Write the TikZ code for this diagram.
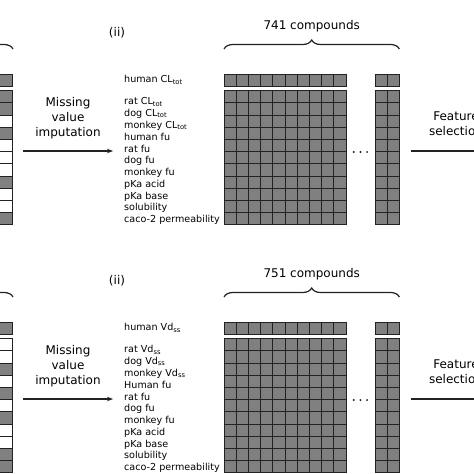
\documentclass[tikz,border=0pt]{standalone}
\usepackage{fontspec}
\setmainfont{DejaVu Sans}
\usetikzlibrary{arrows.meta,decorations.pathreplacing}

\definecolor{cellg}{HTML}{808080}
\definecolor{cellw}{HTML}{FFFFFF}
\definecolor{gridline}{HTML}{222222}

\tikzset{
  cell/.style={draw=gridline,line width=1pt},
  feat/.style={anchor=west,inner sep=0pt,font=\fontsize{9.6}{11}\selectfont},
  steplabel/.style={align=center,inner sep=0pt,font=\fontsize{12}{15}\selectfont},
  flow/.style={line width=1.4pt,draw=gridline,-{Stealth[length=6pt,width=4.5pt]}},
  curly/.style={decorate,decoration={brace,amplitude=9pt},line width=1.2pt,draw=gridline},
}

\begin{document}
\begin{tikzpicture}[x=1pt,y=-1pt]
\useasboundingbox (0,0) rectangle (474,474);
\clip (0,0) rectangle (474,474);

%% upper panel: CLtot
\begin{scope}
% previous matrix, cut off at the left
\draw[curly] (-162,49) -- (13,49);
\draw[cell,fill=cellg] (-1,74.5) rectangle (12.7,86.7);
\foreach \c [count=\i from 0] in {g,g,w,g,w,w,w,g,w,w,g}
  \draw[cell,fill=cell\c] (-1,90.7+\i*12.2) rectangle (12.7,102.9+\i*12.2);
% imputation step
\coordinate (impA-s) at (23,151);
\coordinate (impA-e) at (113,151);
\draw[flow] (impA-s) -- (impA-e) node[steplabel,above=11.5pt,midway] (impA) {Missing\\value\\imputation};
\node[steplabel] (stepA) at (117,33) {(ii)};
% feature names
\node[feat] (featA-0) at (124,80) {human CL\textsubscript{tot}};
\foreach \t [count=\i] in {rat CL\textsubscript{tot},dog CL\textsubscript{tot},monkey CL\textsubscript{tot},human fu,rat fu,dog fu,monkey fu,pKa acid,pKa base,solubility,caco-2 permeability}
  \node[feat] (featA-\i) at (124,90.2+\i*11.8) {\t};
% compound matrix
\foreach \k in {0,...,9,12.4,13.4} {
  \draw[cell,fill=cellg] (224+\k*12.2,74.5) rectangle +(12.2,12.2);
  \foreach \r in {0,...,10}
    \draw[cell,fill=cellg] (224+\k*12.2,90.7+\r*12.2) rectangle +(12.2,12.2);
}
\foreach \d in {353.7,360.4,367.1}
  \fill[gridline] (\d,152) circle (1.1);
\draw[curly] (224,49) -- (399.4,49);
\node[steplabel] (cmpA) at (311.7,26) {741 compounds};
% feature selection step
\coordinate (selA-s) at (411,151);
\coordinate (selA-e) at (501,151);
\draw[flow] (selA-s) -- (selA-e) node[steplabel,above=14.5pt,midway] (selA) {Feature\\selection};
\end{scope}

%% lower panel: Vdss
\begin{scope}[shift={(0,248)}]
% previous matrix, cut off at the left
\draw[curly] (-162,49) -- (13,49);
\draw[cell,fill=cellg] (-1,74.5) rectangle (12.7,86.7);
\foreach \c [count=\i from 0] in {w,w,g,w,g,w,g,w,w,g,g}
  \draw[cell,fill=cell\c] (-1,90.7+\i*12.2) rectangle (12.7,102.9+\i*12.2);
% imputation step
\coordinate (impB-s) at (23,151);
\coordinate (impB-e) at (113,151);
\draw[flow] (impB-s) -- (impB-e) node[steplabel,above=11.5pt,midway] (impB) {Missing\\value\\imputation};
\node[steplabel] (stepB) at (117,33) {(ii)};
% feature names
\node[feat] (featB-0) at (124,80) {human Vd\textsubscript{ss}};
\foreach \t [count=\i] in {rat Vd\textsubscript{ss},dog Vd\textsubscript{ss},monkey Vd\textsubscript{ss},Human fu,rat fu,dog fu,monkey fu,pKa acid,pKa base,solubility,caco-2 permeability}
  \node[feat] (featB-\i) at (124,90.2+\i*11.8) {\t};
% compound matrix
\foreach \k in {0,...,9,12.4,13.4} {
  \draw[cell,fill=cellg] (224+\k*12.2,74.5) rectangle +(12.2,12.2);
  \foreach \r in {0,...,10}
    \draw[cell,fill=cellg] (224+\k*12.2,90.7+\r*12.2) rectangle +(12.2,12.2);
}
\foreach \d in {353.7,360.4,367.1}
  \fill[gridline] (\d,152) circle (1.1);
\draw[curly] (224,49) -- (399.4,49);
\node[steplabel] (cmpB) at (311.7,26) {751 compounds};
% feature selection step
\coordinate (selB-s) at (411,151);
\coordinate (selB-e) at (501,151);
\draw[flow] (selB-s) -- (selB-e) node[steplabel,above=14.5pt,midway] (selB) {Feature\\selection};
\end{scope}
\end{tikzpicture}
\end{document}
